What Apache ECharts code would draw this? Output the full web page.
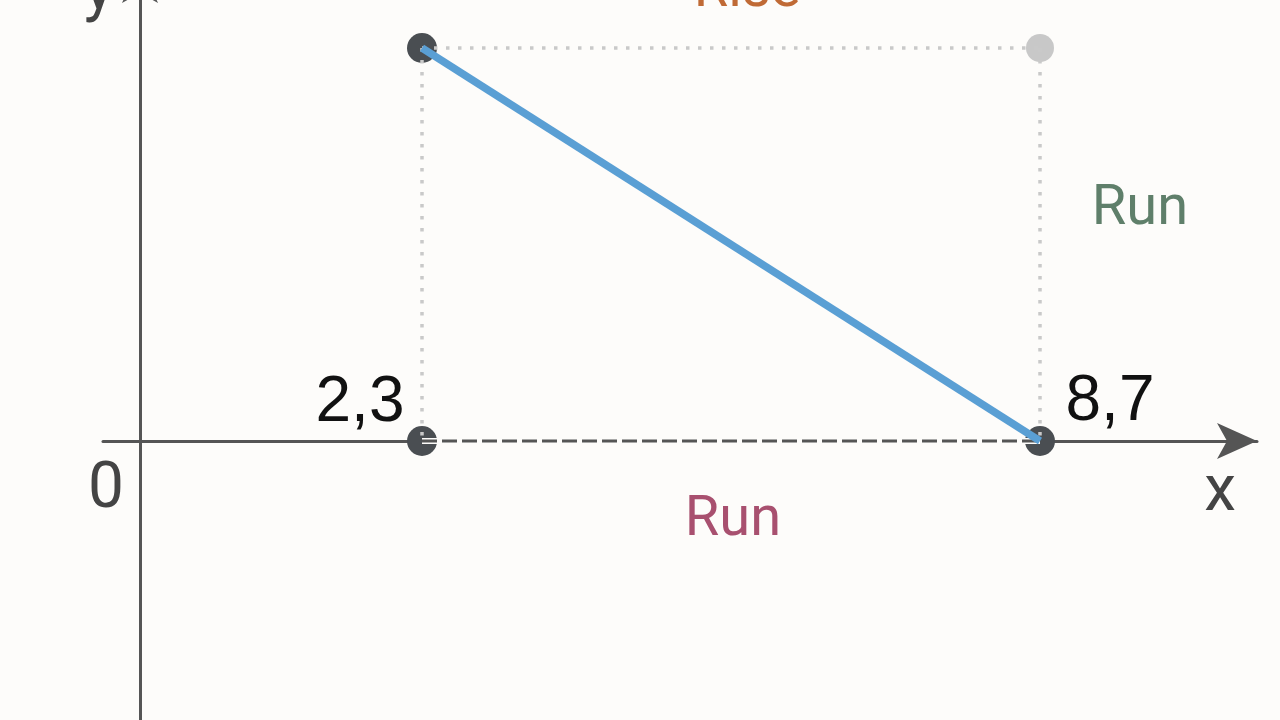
<!DOCTYPE html>
<html>
<head>
<meta charset="utf-8">
<script src="https://cdn.jsdelivr.net/npm/echarts@6/dist/echarts.min.js"></script>
<style>
html,body{margin:0;padding:0;background:#fdfcfa;overflow:hidden;width:1280px;height:720px;}
#c{position:absolute;left:0;top:-37px;width:1280px;height:757px;}
</style>
</head>
<body>
<div id="c"></div>
<script>
// Points (data units; y-axis at x = 0, x-axis at y = 0)
const startPoint = [2.82, 3.93];
const endPoint = [9.0, 0];
const lowCorner = [2.82, 0];
const highCorner = [9.0, 3.93];
const pointNames = ['2,3', '8,7'];
// Annotation texts and their anchors (data units)
const annotations = [
  { text: 'Rise', at: [6.07, 4.49], color: '#c06a35' },
  { text: 'Run', at: [10.0, 2.31], color: '#5f7f6a' },
  { text: 'Run', at: [5.93, -0.80], color: '#a8506f' }
];
const axisTexts = [
  { text: '0', at: [-0.34, -0.50] },
  { text: 'x', at: [10.8, -0.53] },
  { text: 'y', at: [-0.41, 4.48] }
];
const xRange = [-0.37, 11.17];
const yRange = [-2.79, 4.78];

const chart = echarts.init(document.getElementById('c'));
const dotted = { color: '#c9c9c9', width: 3.5, type: [3.5, 8.5] };
const solid = { opacity: 1 };
chart.setOption({
  backgroundColor: '#fdfcfa',
  animation: false,
  grid: { left: 103, right: 23, top: 0, bottom: 0, containLabel: false },
  xAxis: {
    type: 'value', min: xRange[0], max: xRange[1],
    axisLine: { onZero: true, lineStyle: { color: '#555', width: 3 }, symbol: ['none', 'arrow'], symbolSize: [27, 40] },
    axisTick: { show: false }, axisLabel: { show: false }, splitLine: { show: false }
  },
  yAxis: {
    type: 'value', min: yRange[0], max: yRange[1],
    axisLine: { onZero: true, lineStyle: { color: '#555', width: 3 }, symbol: ['none', 'arrow'], symbolSize: [27, 40] },
    axisTick: { show: false }, axisLabel: { show: false }, splitLine: { show: false }
  },
  series: [
    { type: 'line', data: [startPoint, highCorner], showSymbol: false, lineStyle: dotted, silent: true },
    { type: 'line', data: [startPoint, lowCorner], showSymbol: false, lineStyle: dotted, silent: true },
    { type: 'line', data: [highCorner, endPoint], showSymbol: false, lineStyle: dotted, silent: true },
    { type: 'line', data: [lowCorner, endPoint], showSymbol: false,
      lineStyle: { color: '#fdfcfa', width: 6 }, silent: true },
    { type: 'line', data: [lowCorner, endPoint], showSymbol: false,
      lineStyle: { color: '#555', width: 3, type: [15, 5] }, silent: true },
    { type: 'line', data: [startPoint, endPoint], showSymbol: false,
      lineStyle: { color: '#5a9fd4', width: 7.5 }, silent: true },
    { type: 'scatter', symbolSize: 28, itemStyle: { color: '#c8c8c8', opacity: 1 }, data: [highCorner], silent: true },
    { type: 'scatter', symbolSize: 30, itemStyle: { color: '#4a4e52', opacity: 1 }, silent: true,
      data: [
        { value: startPoint },
        { value: lowCorner, label: { show: true, formatter: pointNames[0], offset: [-62, -38] } },
        { value: endPoint, label: { show: true, formatter: pointNames[1], offset: [70, -39] } }
      ],
      label: { position: 'inside', color: '#111', fontSize: 64, fontFamily: 'Liberation Sans' }
    },
    { type: 'scatter', symbolSize: 0, silent: true, clip: false, itemStyle: solid,
      data: annotations.map(a => ({ value: a.at, name: a.text, label: { color: a.color } })),
      label: { show: true, position: 'inside', formatter: p => p.name, fontSize: 56, fontFamily: 'Roboto' }
    },
    { type: 'scatter', symbolSize: 0, silent: true, clip: false, itemStyle: solid,
      data: axisTexts.map(a => ({ value: a.at, name: a.text })),
      label: { show: true, position: 'inside', formatter: p => p.name, fontSize: 64, color: '#444', fontFamily: 'Roboto' }
    }
  ]
});
</script>
</body>
</html>
